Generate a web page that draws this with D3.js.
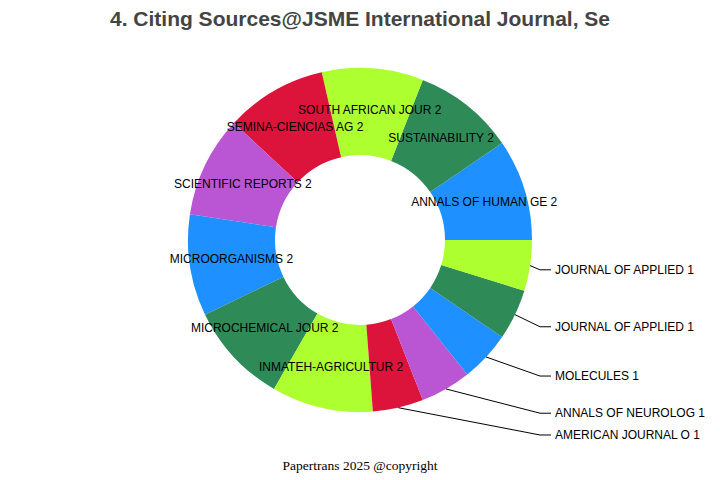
<!DOCTYPE html>
<html>
<head>
<meta charset="utf-8">
<script src="https://cdn.jsdelivr.net/npm/d3@7"></script>
<style>
  body { margin: 0; background: #fff; }
  svg { display: block; }
</style>
</head>
<body>
<div id="chart"></div>
<script>
// chart data
const sources = ["ANNALS OF HUMAN GE", "SUSTAINABILITY", "SOUTH AFRICAN JOUR", "SEMINA-CIENCIAS AG",
  "SCIENTIFIC REPORTS", "MICROORGANISMS", "MICROCHEMICAL JOUR", "INMATEH-AGRICULTUR",
  "AMERICAN JOURNAL O", "ANNALS OF NEUROLOG", "MOLECULES", "JOURNAL OF APPLIED", "JOURNAL OF APPLIED"];
const counts = [2, 2, 2, 2, 2, 2, 2, 2, 1, 1, 1, 1, 1];
const palette = ["#1E90FF", "#2E8B57", "#ADFF2F", "#DC143C", "#BA55D3"];

const width = 720, height = 480;
const cx = 360, cy = 240;
const outerR = 172, innerR = 85;
const labelR = 130;     // inside labels
const outLabelR = 200;  // outside labels (y position)

let svg = d3.select("#chart")
  .append("svg")
  .attr("width", width)
  .attr("height", height);

svg.append("text")
  .attr("x", width / 2)
  .attr("y", 18)
  .attr("text-anchor", "middle")
  .attr("dominant-baseline", "central")
  .style("font-family", "'Liberation Sans', Arial, sans-serif")
  .style("font-size", "21px")
  .style("font-weight", "bold")
  .style("fill", "#444")
  .text("4. Citing Sources@JSME International Journal, Se");

let data = sources.map((s, i) => ({name: s, value: counts[i], idx: i}));

// counter-clockwise from 3 o'clock
let pie = d3.pie()
  .value(d => d.value)
  .sort(null)
  .startAngle(Math.PI / 2)
  .endAngle(Math.PI / 2 - 2 * Math.PI);

let arc = d3.arc().innerRadius(innerR).outerRadius(outerR);
let arcs = pie(data);

let g = svg.append("g").attr("transform", `translate(${cx}, ${cy})`);

g.selectAll("path")
  .data(arcs)
  .enter()
  .append("path")
  .attr("d", arc)
  .attr("fill", d => palette[d.index % palette.length]);

function midAngle(d) {
  // d3 angle (clockwise from top)
  return (d.startAngle + d.endAngle) / 2;
}

// big slices: label inside the ring
let inner = arcs.filter(d => d.data.value > 1);
g.selectAll("text.inner")
  .data(inner)
  .enter()
  .append("text")
  .attr("class", "inner")
  .attr("x", d => labelR * Math.sin(midAngle(d)))
  .attr("y", d => -labelR * Math.cos(midAngle(d)))
  .attr("text-anchor", "middle")
  .attr("dominant-baseline", "central")
  .style("font-family", "'Liberation Sans', Arial, sans-serif")
  .style("font-size", "12px")
  .style("fill", "#000")
  .text(d => d.data.name + " " + d.data.value);

// small slices: label outside with leader line
let outer = arcs.filter(d => d.data.value === 1);
let elbowX = 180, lineEndX = 191, textX = 195;

g.selectAll("polyline")
  .data(outer)
  .enter()
  .append("polyline")
  .attr("points", d => {
    let a = midAngle(d);
    let x0 = outerR * Math.sin(a), y0 = -outerR * Math.cos(a);
    let ly = -outLabelR * Math.cos(a);
    return [[x0, y0], [elbowX, ly], [lineEndX, ly]].map(p => p.join(",")).join(" ");
  })
  .attr("fill", "none")
  .attr("stroke", "#000")
  .attr("stroke-width", 1);

g.selectAll("text.outer")
  .data(outer)
  .enter()
  .append("text")
  .attr("class", "outer")
  .attr("x", textX)
  .attr("y", d => -outLabelR * Math.cos(midAngle(d)))
  .attr("text-anchor", "start")
  .attr("dominant-baseline", "central")
  .style("font-family", "'Liberation Sans', Arial, sans-serif")
  .style("font-size", "12px")
  .style("fill", "#000")
  .text(d => d.data.name + " " + d.data.value);

svg.append("text")
  .attr("x", width / 2)
  .attr("y", 470)
  .attr("text-anchor", "middle")
  .style("font-family", "'Liberation Serif', 'Times New Roman', serif")
  .style("font-size", "13.5px")
  .style("fill", "#000")
  .text("Papertrans 2025 @copyright");
</script>
</body>
</html>
